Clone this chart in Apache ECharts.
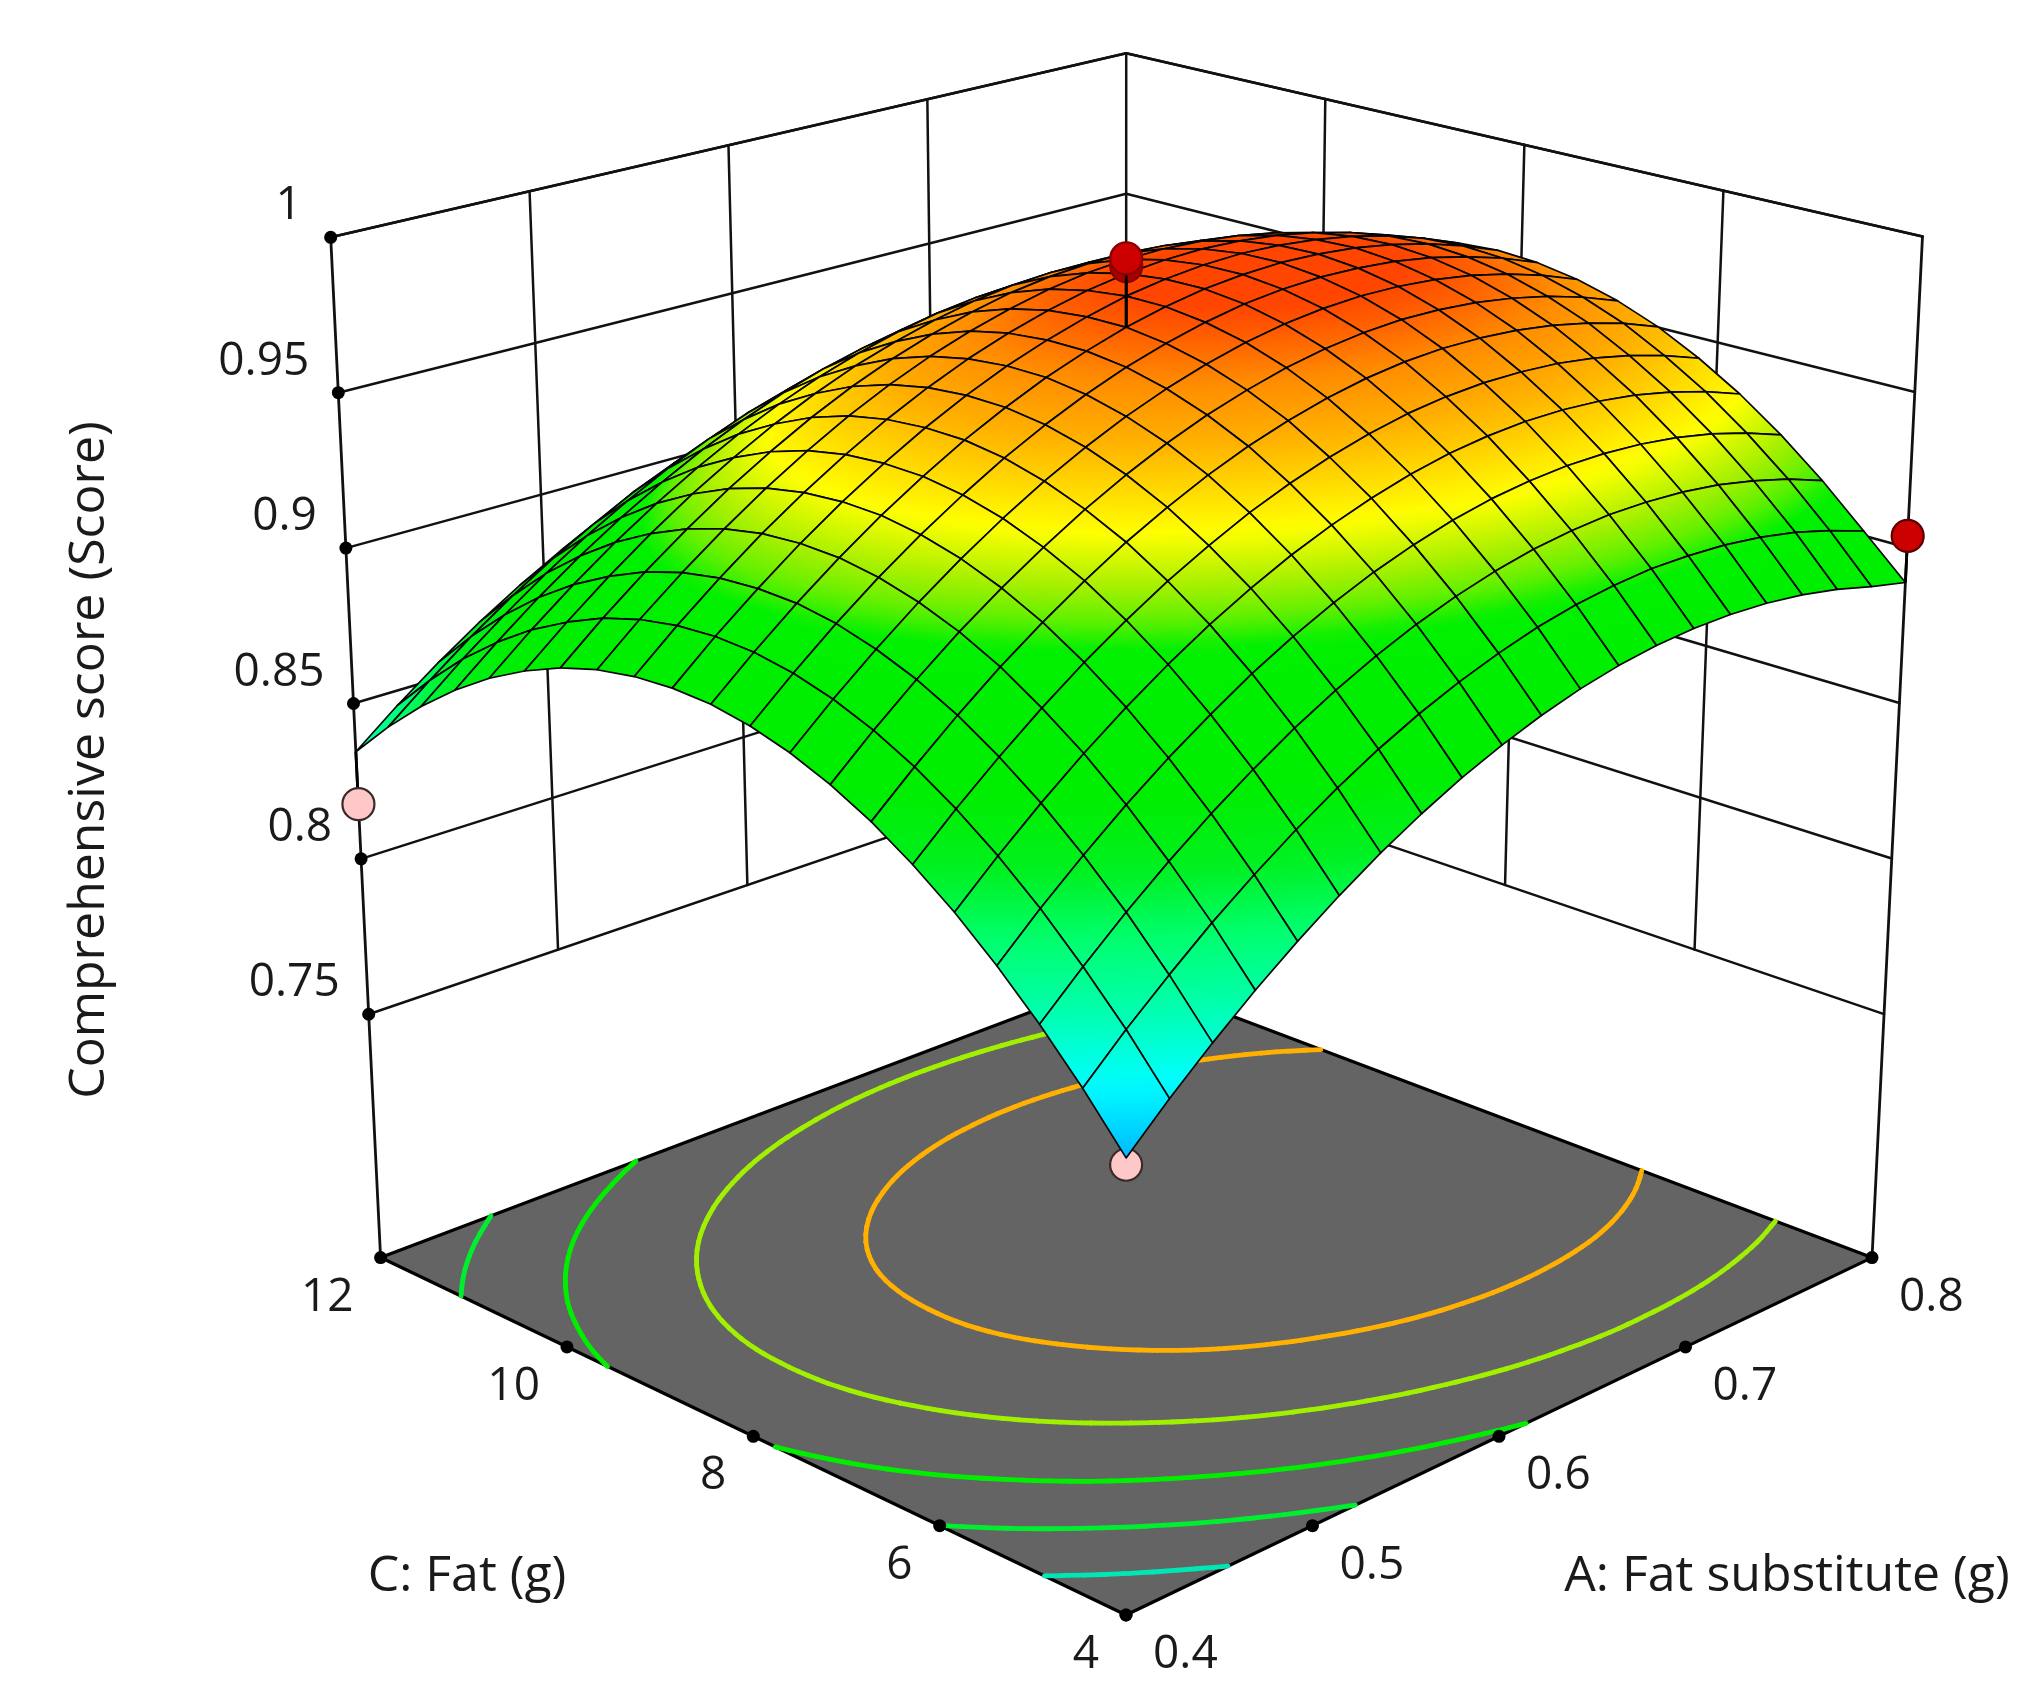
<!DOCTYPE html>
<html><head><meta charset="utf-8">
<style>html,body{margin:0;padding:0;background:#fff}#c{width:2030px;height:1707px}</style>
<script src="https://cdn.jsdelivr.net/npm/echarts@6/dist/echarts.min.js"></script>
</head><body><div id="c"></div>
<script>
const aTicks=[0.4,0.5,0.6,0.7,0.8];
const aTickLabels=['0.4','0.5','0.6','0.7','0.8'];
const cTicks=[4,6,8,10,12];
const cTickLabels=['4','6','8','10','12'];
const zTicks=[0.75,0.8,0.85,0.9,0.95,1];
const zTickLabels=['0.75','0.8','0.85','0.9','0.95','1'];
const aName='A: Fat substitute (g)';
const cName='C: Fat (g)';
const zName='Comprehensive score (Score)';
const aGrid=[0.40,0.42,0.44,0.46,0.48,0.50,0.52,0.54,0.56,0.58,0.60,0.62,0.64,0.66,0.68,0.70,0.72,0.74,0.76,0.78,0.80];
const cGrid=[4,4.4,4.8,5.2,5.6,6,6.4,6.8,7.2,7.6,8,8.4,8.8,9.2,9.6,10,10.4,10.8,11.2,11.6,12];
// rows follow aGrid, columns follow cGrid
const scoreGrid=[
[.8091,.8243,.8380,.8503,.8612,.8706,.8787,.8852,.8903,.8940,.8963,.8970,.8964,.8944,.8909,.8859,.8796,.8718,.8626,.8519,.8398],
[.8213,.8365,.8500,.8623,.8731,.8824,.8904,.8969,.9019,.9055,.9077,.9084,.9077,.9056,.9021,.8969,.8906,.8827,.8735,.8626,.8505],
[.8326,.8476,.8612,.8733,.8841,.8933,.9013,.9077,.9126,.9162,.9183,.9188,.9181,.9159,.9123,.9071,.9007,.8928,.8834,.8726,.8603],
[.8431,.8581,.8715,.8836,.8943,.9034,.9114,.9177,.9225,.9260,.9280,.9285,.9277,.9254,.9217,.9165,.9100,.9020,.8926,.8816,.8693],
[.8527,.8676,.8810,.8930,.9036,.9127,.9205,.9267,.9315,.9349,.9369,.9373,.9364,.9341,.9303,.9250,.9184,.9103,.9008,.8898,.8774],
[.8615,.8763,.8896,.9015,.9121,.9211,.9288,.9349,.9397,.9430,.9449,.9452,.9443,.9419,.9380,.9326,.9260,.9178,.9082,.8971,.8847],
[.8695,.8842,.8975,.9094,.9198,.9287,.9364,.9424,.9471,.9504,.9522,.9524,.9514,.9490,.9450,.9395,.9328,.9245,.9149,.9038,.8912],
[.8766,.8913,.9045,.9163,.9266,.9354,.9430,.9490,.9536,.9568,.9585,.9587,.9576,.9551,.9511,.9455,.9387,.9303,.9206,.9094,.8968],
[.8829,.8975,.9106,.9223,.9326,.9414,.9489,.9548,.9593,.9624,.9641,.9642,.9630,.9604,.9563,.9507,.9438,.9354,.9256,.9143,.9016],
[.8883,.9028,.9159,.9275,.9377,.9464,.9539,.9597,.9641,.9672,.9687,.9687,.9675,.9648,.9606,.9549,.9480,.9395,.9296,.9183,.9055],
[.8929,.9073,.9203,.9318,.9420,.9506,.9580,.9637,.9681,.9710,.9726,.9725,.9712,.9684,.9642,.9584,.9514,.9428,.9329,.9214,.9086],
[.8967,.9111,.9239,.9354,.9455,.9540,.9613,.9670,.9713,.9741,.9756,.9756,.9741,.9713,.9670,.9611,.9540,.9454,.9354,.9238,.9109],
[.8996,.9139,.9267,.9381,.9481,.9566,.9638,.9694,.9736,.9764,.9778,.9776,.9761,.9732,.9688,.9629,.9557,.9470,.9369,.9253,.9123],
[.9016,.9158,.9285,.9398,.9498,.9582,.9654,.9709,.9750,.9777,.9790,.9788,.9772,.9742,.9697,.9637,.9565,.9478,.9376,.9259,.9128],
[.9028,.9170,.9296,.9408,.9507,.9590,.9661,.9716,.9756,.9782,.9795,.9792,.9775,.9744,.9699,.9638,.9565,.9477,.9374,.9256,.9125],
[.9031,.9171,.9297,.9409,.9507,.9589,.9659,.9713,.9753,.9778,.9790,.9786,.9769,.9737,.9691,.9630,.9556,.9466,.9363,.9245,.9113],
[.9026,.9166,.9291,.9402,.9499,.9581,.9650,.9703,.9742,.9767,.9778,.9773,.9755,.9723,.9676,.9614,.9539,.9449,.9345,.9226,.9093],
[.9013,.9152,.9277,.9387,.9483,.9564,.9632,.9684,.9723,.9747,.9757,.9752,.9733,.9701,.9653,.9589,.9514,.9423,.9318,.9199,.9065],
[.8991,.9130,.9253,.9363,.9458,.9538,.9606,.9657,.9695,.9718,.9728,.9722,.9702,.9669,.9620,.9556,.9480,.9388,.9283,.9162,.9028],
[.8961,.9098,.9222,.9330,.9425,.9504,.9572,.9622,.9659,.9682,.9690,.9683,.9663,.9629,.9579,.9515,.9438,.9346,.9239,.9119,.8983],
[.8935,.9059,.9181,.9289,.9383,.9462,.9528,.9578,.9614,.9636,.9644,.9636,.9615,.9580,.9530,.9465,.9387,.9294,.9187,.9065,.8929]
];
const contourLevels=[.8374,.8666,.8933,.922,.951];
const contourColors=['#00e6b4','#00ee30','#00ee00','#a0f000','#ffb000'];
// A, C, score of the design points
const pointsBelow=[[.4,4,.8071],[.4,12,.8229]];
const pointsAbove=[[.8,4,.9081],[.6,8,.9912],[.6,8,.9935]];
const pointColors=['#cc0000','#a80000','#cc0000'];
const pointEdges=['#5a0000','#8a0000','#8a0000'];
const colorStops=[[.809,'#00b8ff'],[.825,'#00ffff'],[.84,'#00ffb0'],[.855,'#00ff70'],[.87,'#00f020'],[.885,'#00ee00'],[.915,'#00f000'],[.921,'#60f000'],[.928,'#a8f000'],[.938,'#ffff00'],[.955,'#ffb000'],[.965,'#ff8c00'],[.976,'#ff4500']];

const zFloor=.6717;
const FONT='"Open Sans"';
// camera: numerators and denominators of the picture's perspective
function proj(u,v,w){
  const d=1+.13413*u+.13505*v-.07155*w;
  return [(1126+997.1*u-694*v-80.3*w)/d,(1615-188.7*u-187.6*v-1175*w)/d];
}
const uOf=a=>(a-.4)/.4, vOf=c=>(c-4)/8, wOf=z=>(z-zFloor)/(1-zFloor);
const P=(u,v,z)=>proj(u,v,wOf(z));
// frame corners, axes use even spacing between them
const F=proj(0,0,0),R=proj(1,0,0),L=proj(0,1,0),B=proj(1,1,0);
const Rt=proj(1,0,1),Lt=proj(0,1,1),Bt=proj(1,1,1);
const lerp=(a,b,t)=>[a[0]+(b[0]-a[0])*t,a[1]+(b[1]-a[1])*t];
const leftWall=(t,z)=>lerp(lerp(L,B,t),lerp(Lt,Bt,t),wOf(z));
const rightWall=(t,z)=>lerp(lerp(R,B,t),lerp(Rt,Bt,t),wOf(z));

function hex(c){return [1,3,5].map(i=>parseInt(c.substr(i,2),16));}
function colorOf(z){
  const s=colorStops;
  if(z<=s[0][0])return s[0][1];
  for(let i=1;i<s.length;i++){
    if(z<=s[i][0]){
      const t=(z-s[i-1][0])/(s[i][0]-s[i-1][0]),a=hex(s[i-1][1]),b=hex(s[i][1]);
      return 'rgb('+a.map((x,k)=>Math.round(x+(b[k]-x)*t)).join(',')+')';
    }
  }
  return s[s.length-1][1];
}
function surfaceAt(A,C){
  const i=aGrid.findIndex(x=>Math.abs(x-A)<1e-6),j=cGrid.findIndex(x=>Math.abs(x-C)<1e-6);
  return scoreGrid[i][j];
}
// smooth reading of the score table between its nodes, for the floor contours
function cr(p0,p1,p2,p3,t){return .5*(2*p1+(p2-p0)*t+(2*p0-5*p1+4*p2-p3)*t*t+(3*p1-p0-3*p2+p3)*t*t*t);}
function node(i,j){
  const n=scoreGrid.length-1;
  if(i<0)return 2*node(0,j)-node(1,j);
  if(i>n)return 2*node(n,j)-node(n-1,j);
  if(j<0)return 2*node(i,0)-node(i,1);
  if(j>n)return 2*node(i,n)-node(i,n-1);
  return scoreGrid[i][j];
}
function smooth(s,t){
  const i=Math.min(Math.floor(s),scoreGrid.length-2),j=Math.min(Math.floor(t),scoreGrid.length-2),a=s-i,b=t-j;
  const col=k=>cr(node(i+k,j-1),node(i+k,j),node(i+k,j+1),node(i+k,j+2),b);
  return cr(col(-1),col(0),col(1),col(2),a);
}
const contourSegs=[];
const REF=4,GN=(scoreGrid.length-1)*REF;
for(let m=0;m<GN;m++)for(let n=0;n<GN;n++){
  const s0=m/REF,s1=(m+1)/REF,t0=n/REF,t1=(n+1)/REF;
  const a=smooth(s0,t0),b=smooth(s1,t0),c=smooth(s1,t1),d=smooth(s0,t1);
  contourLevels.forEach((l,k)=>{
    const pts=[],x=(z1,z2)=>(l-z1)/(z2-z1),on=(p,q)=>(p>=l)!==(q>=l);
    if(on(a,b))pts.push([s0+(s1-s0)*x(a,b),t0]);
    if(on(b,c))pts.push([s1,t0+(t1-t0)*x(b,c)]);
    if(on(d,c))pts.push([s0+(s1-s0)*x(d,c),t1]);
    if(on(a,d))pts.push([s0,t0+(t1-t0)*x(a,d)]);
    if(pts.length===2)contourSegs.push([pts[0][0]/20,pts[0][1]/20,pts[1][0]/20,pts[1][1]/20,k]);
  });
}
const cells=[];
for(let i=aGrid.length-2;i>=0;i--)for(let j=cGrid.length-2;j>=0;j--)cells.push([i,j]);

const black='#000';
function dot(api,p,r){const c=api.coord(p);return {type:'circle',shape:{cx:c[0],cy:c[1],r:r},style:{fill:black}};}
function line(api,a,b,w,col){const p=api.coord(a),q=api.coord(b);return {type:'line',shape:{x1:p[0],y1:p[1],x2:q[0],y2:q[1]},style:{stroke:col||'#111',lineWidth:w,lineCap:'round'}};}
function label(api,p,dx,dy,text,align){const c=api.coord(p);return {type:'text',style:{x:c[0]+dx,y:c[1]+dy,text:text,align:align,verticalAlign:'middle',fontSize:46,fontFamily:FONT,fill:'#1a1a1a'}};}

function renderFrame(params,api){
  const kids=[];
  const q=[F,R,B,L].map(p=>api.coord(p));
  kids.push({type:'polygon',shape:{points:q},style:{fill:'#646464',stroke:black,lineWidth:3.2,lineJoin:'round'}});
  kids.push(line(api,L,Lt,2.8));kids.push(line(api,R,Rt,2.8));
  kids.push(line(api,Lt,Bt,2.5));kids.push(line(api,Rt,Bt,2.5));
  zTicks.forEach(z=>{
    kids.push(line(api,leftWall(0,z),leftWall(1,z),2.5));
    kids.push(line(api,rightWall(0,z),rightWall(1,z),2.5));
  });
  [.25,.5,.75,1].forEach(t=>{
    kids.push(line(api,leftWall(t,1),leftWall(t,zTicks[0]),2.5));
    if(t<1)kids.push(line(api,rightWall(t,1),rightWall(t,zTicks[0]),2.5));
  });
  return {type:'group',children:kids};
}
function renderContours(params,api){
  const s=contourSegs[params.dataIndex];
  return line(api,P(s[0],s[1],zFloor),P(s[2],s[3],zFloor),4.8,contourColors[s[4]]);
}
function cellFill(pts,zs){
  const n=4;let mx=0,my=0,mz=0;
  for(let k=0;k<n;k++){mx+=pts[k][0]/n;my+=pts[k][1]/n;mz+=zs[k]/n;}
  let sxx=0,sxy=0,syy=0,sxz=0,syz=0;
  for(let k=0;k<n;k++){
    const x=pts[k][0]-mx,y=pts[k][1]-my,z=zs[k]-mz;
    sxx+=x*x;sxy+=x*y;syy+=y*y;sxz+=x*z;syz+=y*z;
  }
  const det=sxx*syy-sxy*sxy;
  const lo=Math.min.apply(null,zs),hi=Math.max.apply(null,zs);
  if(det<25||hi-lo<1e-5)return colorOf(mz);
  const gx=(syy*sxz-sxy*syz)/det,gy=(sxx*syz-sxy*sxz)/det,g2=gx*gx+gy*gy;
  if(g2<1e-14)return colorOf(mz);
  const a=(lo-mz)/g2,b=(hi-mz)/g2,stops=[],S=6;
  for(let k=0;k<=S;k++)stops.push({offset:k/S,color:colorOf(lo+(hi-lo)*k/S)});
  return new echarts.graphic.LinearGradient(mx+gx*a,my+gy*a,mx+gx*b,my+gy*b,stops,true);
}
function renderCell(params,api){
  const i=api.value(0),j=api.value(1);
  const u0=uOf(aGrid[i]),u1=uOf(aGrid[i+1]),v0=vOf(cGrid[j]),v1=vOf(cGrid[j+1]);
  const zs=[scoreGrid[i][j],scoreGrid[i+1][j],scoreGrid[i+1][j+1],scoreGrid[i][j+1]];
  const pts=[api.coord(P(u0,v0,zs[0])),api.coord(P(u1,v0,zs[1])),api.coord(P(u1,v1,zs[2])),api.coord(P(u0,v1,zs[3]))];
  return {type:'polygon',shape:{points:pts},style:{fill:cellFill(pts,zs),stroke:'#050505',lineWidth:1.7,lineJoin:'round'}};
}
function marker(api,p,fill,edge){
  const c=api.coord(P(uOf(p[0]),vOf(p[1]),p[2])),s=api.coord(P(uOf(p[0]),vOf(p[1]),surfaceAt(p[0],p[1])));
  return {type:'group',children:[
    {type:'line',shape:{x1:c[0],y1:c[1],x2:s[0],y2:s[1]},style:{stroke:'#000',lineWidth:2.8}},
    {type:'circle',shape:{cx:c[0],cy:c[1],r:16},style:{fill:fill,stroke:edge,lineWidth:2.2}}
  ]};
}
function renderLabels(params,api){
  const kids=[];
  cTicks.forEach((t,i)=>{const p=lerp(F,L,i/(cTicks.length-1));kids.push(dot(api,p,6.5));kids.push(label(api,p,-27,40,cTickLabels[i],'right'));});
  aTicks.forEach((t,i)=>{const p=lerp(F,R,i/(aTicks.length-1));kids.push(dot(api,p,6.5));kids.push(label(api,p,27,40,aTickLabels[i],'left'));});
  zTicks.forEach((z,i)=>{const p=leftWall(0,z);kids.push(dot(api,p,6.5));kids.push(label(api,p,-29,-31,zTickLabels[i],'right'));});
  const a=api.coord([1787,1577]),b=api.coord([467,1577]),c=api.coord([90,760]);
  kids.push({type:'text',style:{x:a[0],y:a[1],text:aName,align:'center',verticalAlign:'middle',fontSize:50,fontFamily:FONT,fill:'#1a1a1a'}});
  kids.push({type:'text',style:{x:b[0],y:b[1],text:cName,align:'center',verticalAlign:'middle',fontSize:50,fontFamily:FONT,fill:'#1a1a1a'}});
  kids.push({type:'text',x:c[0],y:c[1],rotation:Math.PI/2,style:{x:0,y:0,text:zName,align:'center',verticalAlign:'middle',fontSize:50,fontFamily:FONT,fill:'#1a1a1a'}});
  return {type:'group',children:kids};
}
const chart=echarts.init(document.getElementById('c'),null,{renderer:'canvas'});
const base={type:'custom',coordinateSystem:'cartesian2d',silent:true,animation:false,clip:false};
chart.setOption({
  animation:false,backgroundColor:'#fff',
  grid:{left:0,right:0,top:0,bottom:0},
  xAxis:{type:'value',min:0,max:2030,show:false},
  yAxis:{type:'value',min:0,max:1707,inverse:true,show:false},
  series:[
    Object.assign({},base,{data:[[0,0]],renderItem:renderFrame}),
    Object.assign({},base,{data:contourSegs.map(()=>[0,0]),renderItem:renderContours}),
    Object.assign({},base,{data:pointsBelow.map(p=>p.slice()),renderItem:(pr,api)=>marker(api,pointsBelow[pr.dataIndex],'#ffc8c8','#3a2a2a')}),
    Object.assign({},base,{data:cells,renderItem:renderCell}),
    Object.assign({},base,{data:pointsAbove.map(p=>p.slice()),renderItem:(pr,api)=>marker(api,pointsAbove[pr.dataIndex],pointColors[pr.dataIndex],pointEdges[pr.dataIndex])}),
    Object.assign({},base,{data:[[0,0]],renderItem:renderLabels})
  ]
});
</script></body></html>
